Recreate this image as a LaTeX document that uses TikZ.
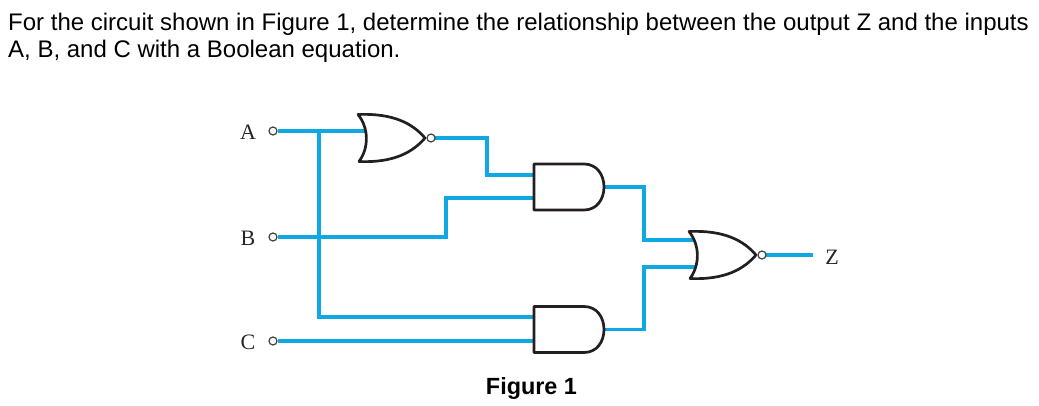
\documentclass[tikz,border=0pt]{standalone}
\usepackage{fontspec}
\setmainfont{Liberation Sans}
\newfontfamily\labelfont{Liberation Serif}
\usetikzlibrary{positioning}
\usetikzlibrary{backgrounds}
\definecolor{wireblue}{HTML}{10A8E2}
\definecolor{gateblack}{HTML}{231F20}
\tikzset{
	wire/.style={line width=3.4pt, wireblue},
	gatebody/.style={draw=gateblack, line width=2.7pt, fill=white, line join=round},
	bubble/.style={circle, draw=gateblack!85, line width=1.2pt, fill=white, minimum size=8pt, inner sep=0pt},
	terminal/.style={bubble},
	pinlabel/.style={font=\labelfont\fontsize{22}{22}\selectfont, text=black!85, inner sep=0pt},
	norgate/.pic={
		\draw[gatebody] (0,-23.5) .. controls (36,-25) and (55,-14) .. (67,0)
			.. controls (55,14) and (36,25) .. (1,23.5)
			.. controls (11,10) and (11,-10) .. cycle;
		\node[bubble] (-bubble) at (73,0) {};
		\coordinate (-output) at (77,0);
	},
	andgate/.pic={
		\draw[gatebody] (0,-23) -- (50,-23)
			.. controls (63,-23) and (70,-12) .. (70,0)
			.. controls (70,12) and (63,23) .. (50,23) -- (0,23) -- cycle;
		\coordinate (-output) at (70,0);
	}
}

\begin{document}
\begin{tikzpicture}[x=1pt, y=-1pt]
	\useasboundingbox (0,0) rectangle (1039,406);
	
	%question text
	\node[anchor=north west, inner sep=0pt, align=left, font=\fontsize{24}{27}\selectfont] (question) at (8,12.5) {For the circuit shown in Figure 1, determine the relationship between the output Z and the inputs\\A, B, and C with a Boolean equation.};
	
	%gates
	\pic (gateNorA) at (358,138) {norgate};
	\pic (gateAndB) at (534,187) {andgate};
	\pic (gateAndC) at (534,329.5) {andgate};
	\pic (gateNorZ) at (689,255) {norgate};
	
	%terminals
	\node[terminal] (termA) at (273,131) {};
	\node[terminal] (termB) at (273,237) {};
	\node[terminal] (termC) at (273,341) {};
	
	%labels
	\node[pinlabel] (labelA) at (248,132) {A};
	\node[pinlabel] (labelB) at (248,238) {B};
	\node[pinlabel] (labelC) at (248,342) {C};
	\node[pinlabel] (labelZ) at (832,257) {Z};
	\node[font=\bfseries\fontsize{23.4}{27}\selectfont, inner sep=0pt] (caption) at (531.5,388) {Figure 1};
	
	%free ends and bends
	\coordinate (forkA) at (319,131);
	\coordinate (inA) at (365,131);
	\coordinate (inBtop) at (536,175);
	\coordinate (inBlow) at (536,198);
	\coordinate (inCtop) at (536,317);
	\coordinate (inClow) at (536,341);
	\coordinate (inZtop) at (696,240);
	\coordinate (inZlow) at (696,267);
	\coordinate (endZ) at (813,255);
	
	%wires
	\begin{scope}[on background layer]
		\draw[wire] (termA) -- (inA);
		\draw[wire] (forkA) |- (inCtop);
		\draw[wire] (termB) -- (446,237) |- (inBlow);
		\draw[wire] (termC) -- (inClow);
		\draw[wire] (gateNorA-output) -- (487,138) |- (inBtop);
		\draw[wire] (gateAndB-output) -- (644,187) |- (inZtop);
		\draw[wire] (gateAndC-output) -- (644,329.5) |- (inZlow);
		\draw[wire] (gateNorZ-output) -- (endZ);
	\end{scope}
	
\end{tikzpicture}
\end{document}
